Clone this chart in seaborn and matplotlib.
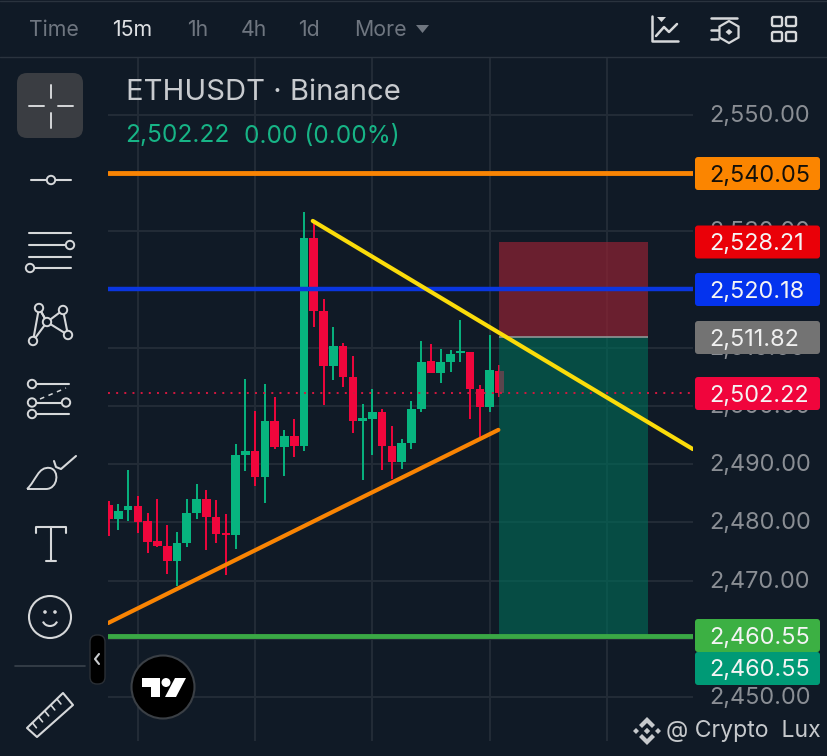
import matplotlib
matplotlib.use("Agg")
import numpy as np
import pandas as pd
import matplotlib.pyplot as plt
import seaborn as sns
from matplotlib.patches import Circle, FancyBboxPatch, PathPatch, Polygon, Rectangle, Arc
from matplotlib.path import Path
from matplotlib.transforms import ScaledTranslation

# candles
opens = [2483.0, 2480.6, 2482.1, 2482.8, 2480.3, 2476.8, 2476.0, 2473.3, 2476.5, 2481.6, 2484.0,
         2481.0, 2478.1, 2477.9, 2491.5, 2492.2, 2487.8, 2497.4, 2493.0, 2494.9, 2493.1, 2528.9,
         2516.4, 2506.9, 2510.3, 2504.9, 2497.5, 2497.8, 2499.0, 2493.2, 2490.4, 2493.7, 2499.4,
         2507.7, 2505.6, 2507.6, 2509.1, 2509.2, 2502.9, 2499.8, 2506.0]
closes = [2480.6, 2482.0, 2482.8, 2480.1, 2476.6, 2475.9, 2473.3, 2476.5, 2481.7, 2484.0, 2480.9,
          2478.0, 2477.9, 2491.5, 2492.2, 2487.8, 2497.4, 2493.0, 2494.9, 2493.1, 2528.9, 2516.4,
          2506.9, 2510.3, 2504.9, 2497.5, 2497.9, 2499.0, 2493.1, 2490.4, 2493.7, 2499.4, 2507.6,
          2505.6, 2507.6, 2508.9, 2509.4, 2502.9, 2499.8, 2506.1, 2502.2]
highs = [2483.6, 2483.2, 2489.0, 2484.5, 2481.6, 2484.0, 2479.6, 2478.4, 2484.0, 2486.6, 2485.6,
         2483.9, 2481.5, 2493.5, 2504.6, 2499.1, 2503.8, 2501.6, 2495.9, 2497.8, 2533.4, 2532.0,
         2518.4, 2513.6, 2510.9, 2508.6, 2500.4, 2503.0, 2499.4, 2496.5, 2494.4, 2500.8, 2511.2,
         2510.7, 2509.8, 2509.6, 2514.8, 2509.3, 2503.6, 2512.2, 2507.1]
lows = [2477.7, 2478.7, 2480.3, 2478.2, 2474.7, 2475.7, 2471.1, 2469.0, 2475.8, 2480.6, 2475.3,
        2476.4, 2471.0, 2475.4, 2488.8, 2486.3, 2483.4, 2492.6, 2488.0, 2491.2, 2492.3, 2513.6,
        2500.2, 2504.5, 2503.2, 2495.3, 2487.2, 2491.5, 2489.0, 2487.5, 2489.1, 2492.6, 2498.9,
        2505.6, 2504.0, 2505.8, 2507.6, 2497.7, 2494.5, 2498.9, 2501.5]

price_ticks = [2450, 2460, 2470, 2480, 2490, 2500, 2510, 2520, 2530, 2540, 2550]
time_grid = [3, 15, 27, 39, 51]

level_orange = 2540.05
level_blue = 2520.18
level_green = 2460.55
last_price = 2502.22
stop_price = 2528.21
entry_price = 2511.82
box_start, box_end = 40, 55.2

# trend lines as (candle index, price)
yellow_x, yellow_y = [20.9, 59.8], [2531.8, 2492.6]
orange_x, orange_y = [-0.06, 39.9], [2462.7, 2495.9]

time_labels = ["Time", "15m", "1h", "4h", "1d", "More"]
time_label_x = [29, 112, 187, 241, 298, 354]
time_label_col = ["#6f7680", "#dfe1e4", "#6f7680", "#6f7680", "#6f7680", "#6f7680"]

# badges: text, colour, text colour, centre y in pixels
badges = [("2,540.05", "#fb8500", "#14100a", 173.5),
          ("2,528.21", "#ea0008", "#f4f4f4", 242),
          ("2,520.18", "#0433ee", "#f4f4f4", 289.5),
          ("2,511.82", "#737373", "#f0f0f0", 337.5),
          ("2,502.22", "#f0053c", "#f4f4f4", 393.5),
          ("2,460.55", "#3cb043", "#f4f4f4", 635.5),
          ("2,460.55", "#009a76", "#f4f4f4", 668.5)]

BG = "#101a26"
UP = "#07b47f"
DOWN = "#f0063c"
LINE_COL = "#d6d8da"
FONT = ["Inter", "DejaVu Sans"]

W, H = 828, 756
sns.set_theme(style="dark", rc={"figure.facecolor": BG, "axes.facecolor": BG, "savefig.facecolor": BG})
plt.rcParams["font.family"] = FONT

fig = plt.figure(figsize=(W / 100, H / 100), dpi=100)

# chart axes, pixel box 108..693 x 58..756
ax = fig.add_axes([108 / W, 0, (693 - 108) / W, (756 - 58) / H])
ax.set_facecolor(BG)

candles = pd.DataFrame({"o": opens, "c": closes, "h": highs, "l": lows})
candles["i"] = candles.index
candles["up"] = candles["c"] >= candles["o"]
wicks = pd.concat([candles[["i", "up"]].assign(p=candles["h"]),
                   candles[["i", "up"]].assign(p=candles["l"])])

ax.hlines(price_ticks, -1, 60, color="#222b36", lw=1.5, zorder=1)
ax.vlines(time_grid, 2442.5, 2560, color="#222b36", lw=1.5, zorder=1)

for is_up, col in [(True, UP), (False, DOWN)]:
    part = wicks[wicks["up"] == is_up]
    sns.lineplot(data=part, x="i", y="p", units="i", estimator=None, color=col, lw=1.4,
                 legend=False, ax=ax, zorder=2, solid_capstyle="butt")
    body = candles[candles["up"] == is_up]
    ax.bar(body["i"], (body["c"] - body["o"]).abs(), bottom=body[["o", "c"]].min(axis=1),
           width=0.88, color=col, lw=0, zorder=3)

# long/short position box
ax.add_patch(Rectangle((box_start, entry_price), box_end - box_start, stop_price - entry_price,
                       fc="#8e2233", alpha=0.72, lw=0, zorder=4))
ax.add_patch(Rectangle((box_start, level_green), box_end - box_start, entry_price - level_green,
                       fc="#006c58", alpha=0.62, lw=0, zorder=4))
ax.hlines(entry_price, box_start, box_end, color="#8f9696", lw=1.2, zorder=4)

ax.axhline(last_price, color="#d5173f", lw=1.4, ls=(0, (1, 3.2)), zorder=5)
ax.axhline(level_orange, color="#f98403", lw=3.5, zorder=6)
ax.axhline(level_blue, color="#0a36e0", lw=3.2, zorder=6)
ax.axhline(level_green, color="#3aa845", lw=3.5, zorder=6)
sns.lineplot(x=yellow_x, y=yellow_y, color="#fbdc0a", lw=3, ax=ax, zorder=7, solid_capstyle="round")
sns.lineplot(x=orange_x, y=orange_y, color="#f98403", lw=3, ax=ax, zorder=7, solid_capstyle="round")

ax.set_xlim(-0.06, 59.82)
ax.set_ylim(2550 - 641 / 5.82, 2550 + 57 / 5.82)
ax.set_xticks([])
ax.set_xlabel("")
ax.set_ylabel("")
ax.yaxis.tick_right()
ax.set_yticks(price_ticks)
ax.set_yticklabels([f"{p:,.2f}" for p in price_ticks])
ax.tick_params(axis="y", length=0, pad=11.5, labelsize=16.9, labelcolor="#8a8e94")
# nudge the price labels up a little
nudge = ScaledTranslation(0, 1.5 / 100, fig.dpi_scale_trans)
for lab in ax.get_yticklabels():
    lab.set_transform(lab.get_transform() + nudge)
ax.grid(False)
for s in ax.spines.values():
    s.set_visible(False)

# interface layer in pixel coordinates
ui = fig.add_axes([0, 0, 1, 1], zorder=5)
ui.set_xlim(0, W)
ui.set_ylim(H, 0)
ui.axis("off")
ui.patch.set_alpha(0)


def seg(xs, ys, col=LINE_COL, lw=1.5, **kw):
    ui.plot(xs, ys, color=col, lw=lw, solid_capstyle=kw.pop("cap", "round"), **kw)


def node(x, y, r=4.2):
    ui.add_patch(Circle((x, y), r, fc=BG, ec=LINE_COL, lw=1.4, zorder=4))


ui.plot([0, W], [57, 57], color="#2a333e", lw=1)
ui.plot([0, W], [0.5, 0.5], color="#2a333e", lw=1)

# time buttons
for lab, x, col in zip(time_labels, time_label_x, time_label_col):
    ui.text(x, 30.5, lab, color=col, fontsize=15.3, va="center", ha="left")
ui.add_patch(Polygon([[416, 25], [429, 25], [422.5, 33]], fc="#6f7680", lw=0))

# top right icons
seg([652, 652, 678], [16, 41, 41], lw=1.8)
seg([656, 664, 669, 677], [36, 27, 32, 24], lw=1.8)
ui.add_patch(Polygon([[657, 17], [666, 17], [661.5, 22]], fc=LINE_COL, lw=0))
seg([711, 737], [18, 18], lw=1.8)
seg([711, 718], [30, 30], lw=1.8)
seg([711, 718], [39, 39], lw=1.8)
hx = [729 + 11 * np.cos(a) for a in np.radians(np.arange(30, 390, 60))]
hy = [32 + 11 * np.sin(a) for a in np.radians(np.arange(30, 390, 60))]
ui.add_patch(Polygon(np.column_stack([hx, hy]), fc="none", ec=LINE_COL, lw=1.6))
ui.add_patch(Polygon([[729, 29], [732.5, 32], [729, 35], [725.5, 32]], fc=LINE_COL, lw=0))
for gx in (772, 786):
    for gy in (17, 32):
        ui.add_patch(FancyBboxPatch((gx, gy), 10, 9, boxstyle="round,pad=0,rounding_size=1.5",
                                    fc="none", ec=LINE_COL, lw=1.7))

# drawing tools on the left
ui.add_patch(FancyBboxPatch((17, 73), 66, 65, boxstyle="round,pad=0,rounding_size=10", fc="#3a3d42", lw=0))
seg([29, 44], [106, 106], lw=1.4)
seg([58, 73], [106, 106], lw=1.4)
seg([51, 51], [85, 98], lw=1.4)
seg([51, 51], [113, 128], lw=1.4)
seg([31, 71], [180, 180])
node(51, 180)
for ly in (233, 245, 256.5, 268):
    seg([29, 71], [ly, ly])
node(70, 245)
node(30, 268)
seg([33, 39, 47, 63, 68, 47, 33], [341, 308, 322, 310, 335, 322, 341])
seg([39, 47], [308, 322])
for nx, ny in [(39, 308), (63, 310), (47, 322), (33, 341), (68, 335)]:
    node(nx, ny)
for ly, x0 in [(384, 32), (402.5, 32), (414, 32)]:
    seg([x0, 69], [ly, ly])
seg([40, 66], [399, 388], ls=(0, (3, 3)), lw=1.1)
for nx, ny in [(32, 384), (32, 402.5), (66, 402.5), (32, 414)]:
    node(nx, ny)
brush = Path([(27, 489), (36, 481), (38, 466), (50, 468), (60, 470), (58, 489), (46, 489), (38, 489), (32, 489), (27, 489)],
             [1, 4, 4, 4, 4, 4, 4, 4, 4, 4])
ui.add_patch(PathPatch(brush, fc="none", ec=LINE_COL, lw=1.4))
seg([54, 56, 61, 76], [461, 467, 469, 456])
seg([36, 36, 66, 66], [533, 527, 527, 533])
seg([51, 51], [527, 561])
seg([46, 56], [561, 561])
ui.add_patch(Circle((50, 617), 21, fc="none", ec=LINE_COL, lw=1.5))
ui.add_patch(Circle((45, 612), 1.8, fc=LINE_COL, lw=0))
ui.add_patch(Circle((55, 612), 1.8, fc=LINE_COL, lw=0))
ui.add_patch(Arc((50, 619), 15, 14, theta1=20, theta2=160, ec=LINE_COL, lw=1.5))
seg([15, 85], [666, 666], col="#3a424c", lw=1.2)
ui.add_patch(Polygon([[27, 728], [63, 693], [73, 705], [37, 737]], fc="none", ec=LINE_COL, lw=1.5, joinstyle="round"))
for t in np.arange(0.15, 0.9, 0.17):
    tx, ty = 27 + 36 * t, 728 - 35 * t
    seg([tx, tx + 4], [ty, ty + 5], lw=1.2)

# collapse pill
ui.add_patch(FancyBboxPatch((90, 635), 15, 49, boxstyle="round,pad=0,rounding_size=7", fc="black", ec="#2a2f35", lw=1))
seg([99, 95, 99], [654, 659, 664], col="#c9cbce", lw=1.5)

# tradingview logo
ui.add_patch(Circle((163, 687), 31.5, fc="black", ec="#3a3f45", lw=1.5))
ui.add_patch(Polygon([[142, 678], [160, 678], [160, 697], [151, 697], [151, 687], [142, 687]], fc="white", lw=0))
ui.add_patch(Circle((166, 682.5), 4.5, fc="white", lw=0))
ui.add_patch(Polygon([[175, 678], [186, 678], [176, 697], [165, 697]], fc="white", lw=0))

# legend text
ui.text(126, 93, "ETHUSDT · Binance", color="#c8cbcf", fontsize=21.05, va="center", ha="left")
ui.text(125, 136, "2,502.22", color="#17b486", fontsize=17.6, va="center", ha="left")
ui.text(244, 136, "0.00 (0.00%)", color="#17b486", fontsize=17.6, va="center", ha="left")

# price badges
for lab, col, tcol, cy in badges:
    ui.add_patch(FancyBboxPatch((695, cy - 16.5), 125, 33, boxstyle="round,pad=0,rounding_size=3", fc=col, lw=0, zorder=8))
    ui.text(709.5, cy - 0.5, lab, color=tcol, fontsize=16.9, va="center_baseline", ha="left", zorder=9)

# watermark: binance mark then handle
wm = "#c6c9cc"
ui.add_patch(Polygon([[647, 717], [655, 725], [652, 728], [647, 723], [642, 728], [639, 725]], fc=wm, lw=0))
ui.add_patch(Polygon([[647, 745], [655, 737], [652, 734], [647, 739], [642, 734], [639, 737]], fc=wm, lw=0))
for dx, r in [(-11, 3), (0, 3.2), (11, 3)]:
    ui.add_patch(Polygon([[647 + dx - r, 731], [647 + dx, 731 - r], [647 + dx + r, 731], [647 + dx, 731 + r]], fc=wm, lw=0))
ui.text(666, 731, "@ Crypto  Lux", color=wm, fontsize=16.6, va="center", ha="left")

fig.savefig("out.png", dpi=100)
